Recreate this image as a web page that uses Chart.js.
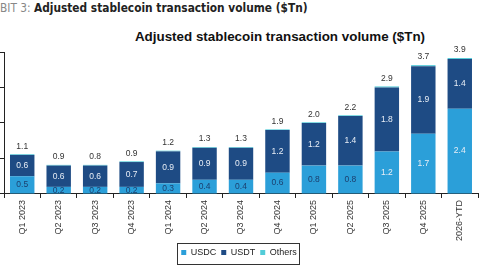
<!DOCTYPE html>
<html>
<head>
<meta charset="utf-8">
<script src="https://cdn.jsdelivr.net/npm/chart.js@4"></script>
<style>
  body { margin: 0; background: #fff; width: 480px; height: 270px; overflow: hidden; position: relative; font-family: "Liberation Sans", Arial, sans-serif; }
  #cabecera { position: absolute; left: 0; top: 1px; font-family: "Liberation Sans Narrow", "DejaVu Sans Condensed", sans-serif; font-size: 11.8px; color: #222; white-space: nowrap; }
  #cabecera span { color: #888; font-weight: normal; }
  #cabecera b { font-weight: bold; }
  #titulo { position: absolute; left: 0; width: 560px; top: 29px; text-align: center; font-size: 13.4px; font-weight: bold; color: #111; white-space: nowrap; }
  #caja { position: absolute; left: 0; top: 40px; width: 480px; height: 230px; }
</style>
</head>
<body>
<div id="cabecera"><span>BIT 3: </span><b>Adjusted stablecoin transaction volume ($Tn)</b></div>
<div id="titulo">Adjusted stablecoin transaction volume ($Tn)</div>
<div id="caja"><canvas id="volumen"></canvas></div>
<script>
// Datos
const etiquetas = ["Q1 2023","Q2 2023","Q3 2023","Q4 2023","Q1 2024","Q2 2024","Q3 2024","Q4 2024","Q1 2025","Q2 2025","Q3 2025","Q4 2025","2026-YTD"];
const usdc = [0.5,0.2,0.2,0.2,0.3,0.4,0.4,0.6,0.8,0.8,1.2,1.7,2.4];
const usdt = [0.6,0.6,0.6,0.7,0.9,0.9,0.9,1.2,1.2,1.4,1.8,1.9,1.4];
const otros = [0.02,0.02,0.02,0.02,0.02,0.02,0.02,0.02,0.02,0.02,0.03,0.03,0.03];
const totales = [1.1,0.9,0.8,0.9,1.2,1.3,1.3,1.9,2.0,2.2,2.9,3.7,3.9];

const colores = { usdc: "#2b9fd9", usdt: "#1e4b84", otros: "#52ccd8" };

// Plugin para etiquetas de valores y borde de la leyenda
const etiquetasPlugin = {
  id: "etiquetasValores",
  afterDatasetsDraw(chart) {
    const ctx = chart.ctx;
    ctx.save();
    ctx.font = "8.5px 'Liberation Sans', Arial, sans-serif";
    ctx.textAlign = "center";
    ctx.textBaseline = "middle";
    [0, 1].forEach(function (d) {
      const meta = chart.getDatasetMeta(d);
      meta.data.forEach(function (bar, i) {
        const v = chart.data.datasets[d].data[i];
        const y = (bar.y + bar.base) / 2;
        ctx.fillStyle = d === 0 ? "#1c3f6e" : "#e8eef6";
        if (d === 0 && v >= 1.0) ctx.fillStyle = "#e8eef6";
        ctx.fillText(v.toFixed(1), bar.x, y);
      });
    });
    const ultima = chart.getDatasetMeta(2);
    ctx.fillStyle = "#333";
    ultima.data.forEach(function (bar, i) {
      ctx.fillText(totales[i].toFixed(1), bar.x, bar.y - 8);
    });
    const lg = chart.legend;
    ctx.strokeStyle = "#333";
    ctx.lineWidth = 1;
    let izq = Infinity, der = -Infinity;
    lg.legendHitBoxes.forEach(function (b) { izq = Math.min(izq, b.left); der = Math.max(der, b.left + b.width); });
    ctx.strokeRect(Math.round(izq - 4) + 0.5, Math.round(lg.top) + 0.5, Math.round(der - izq + 6), Math.round(lg.height - 3));
    ctx.restore();
  }
};

const grafico = document.getElementById("volumen");
const caracteristicas = {
  type: "bar",
  data: {
    labels: etiquetas,
    datasets: [
      { label: "USDC", data: usdc, backgroundColor: colores.usdc },
      { label: "USDT", data: usdt, backgroundColor: colores.usdt },
      { label: "Others", data: otros, backgroundColor: colores.otros }
    ]
  },
  options: {
    responsive: true,
    maintainAspectRatio: false,
    animation: false,
    layout: { padding: { top: 12, right: 2, left: 0, bottom: 3 } },
    datasets: { bar: { categoryPercentage: 0.67, barPercentage: 1.0 } },
    plugins: {
      title: { display: false },
      tooltip: { enabled: false },
      legend: {
        position: "bottom",
        labels: {
          boxWidth: 5, boxHeight: 5, padding: 5, color: "#222",
          font: { size: 9, family: "'Liberation Sans', Arial, sans-serif" }
        }
      }
    },
    scales: {
      x: {
        stacked: true,
        border: { color: "#222", width: 1 },
        grid: { drawOnChartArea: false, drawTicks: true, tickLength: 4, color: "#222" },
        ticks: { maxRotation: 90, minRotation: 90, color: "#333", padding: 2,
          font: { size: 9, family: "'Liberation Sans', Arial, sans-serif" } }
      },
      y: {
        stacked: true,
        min: 0, max: 4,
        border: { color: "#222", width: 1 },
        grid: { drawOnChartArea: false, drawTicks: true, tickLength: 4, color: "#222" },
        ticks: { stepSize: 1, display: false }
      }
    }
  },
  plugins: [etiquetasPlugin]
};
new Chart(grafico, caracteristicas);
</script>
</body>
</html>
